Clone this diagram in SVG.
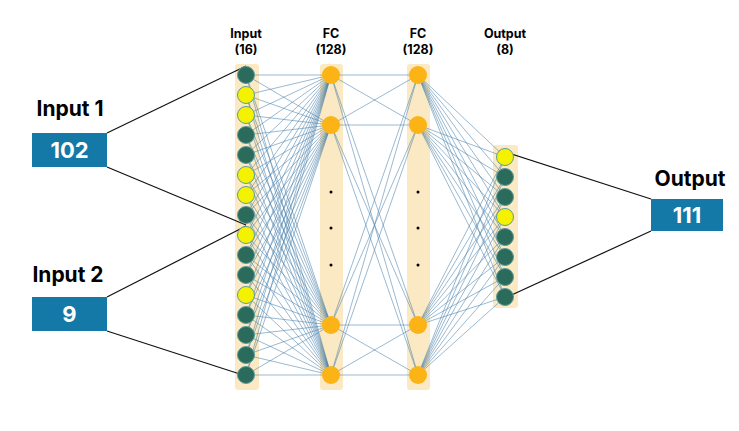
<svg xmlns="http://www.w3.org/2000/svg" width="739" height="431" viewBox="0 0 739 431">
<style>
.col{fill:#fbe9c3}
.g{fill:#2b6b5c;stroke:#5d9a9c;stroke-width:1}
.y{fill:#f5f200;stroke:#5d9a9c;stroke-width:1}
.o{fill:#fbb316}
.w{fill:none;stroke:#4a82ad;stroke-width:0.7;stroke-opacity:0.8}
.k{stroke:#111;stroke-width:1.2}
.box{fill:#1579a8}
.bt{font-family:Inter,"Liberation Sans",sans-serif;font-weight:bold;fill:#fff;font-size:22px;text-anchor:middle}
.lt{font-family:Inter,"Liberation Sans",sans-serif;font-weight:bold;fill:#000;font-size:21px;text-anchor:middle}
.ht{font-family:Inter,"Liberation Sans",sans-serif;font-weight:bold;fill:#000;font-size:12.5px;text-anchor:middle}
</style>
<rect width="739" height="431" fill="#fff"/>
<g id="columns">
<rect class="col" x="235" y="64" width="24" height="326" rx="3"/>
<rect class="col" x="320" y="64" width="23" height="326" rx="3"/>
<rect class="col" x="407" y="64" width="23" height="326" rx="3"/>
<rect class="col" x="493" y="145" width="25" height="163" rx="3"/>
</g>
<g id="connectors">
<path class="w" d="M246 75L331 75M246 95L331 75M246 115L331 75M246 135L331 75M246 155L331 75M246 175L331 75M246 195L331 75M246 215L331 75M246 235L331 75M246 255L331 75M246 275L331 75M246 295L331 75M246 315L331 75M246 335L331 75M246 355L331 75M246 375L331 75
M246 75L331 125M246 95L331 125M246 115L331 125M246 135L331 125M246 155L331 125M246 175L331 125M246 195L331 125M246 215L331 125M246 235L331 125M246 255L331 125M246 275L331 125M246 295L331 125M246 315L331 125M246 335L331 125M246 355L331 125M246 375L331 125
M246 75L331 325M246 95L331 325M246 115L331 325M246 135L331 325M246 155L331 325M246 175L331 325M246 195L331 325M246 215L331 325M246 235L331 325M246 255L331 325M246 275L331 325M246 295L331 325M246 315L331 325M246 335L331 325M246 355L331 325M246 375L331 325
M246 75L331 375M246 95L331 375M246 115L331 375M246 135L331 375M246 155L331 375M246 175L331 375M246 195L331 375M246 215L331 375M246 235L331 375M246 255L331 375M246 275L331 375M246 295L331 375M246 315L331 375M246 335L331 375M246 355L331 375M246 375L331 375"/>
<path class="w" d="M331 75L418 75M331 75L418 125M331 75L418 325M331 75L418 375M331 125L418 75M331 125L418 125M331 125L418 325M331 125L418 375M331 325L418 75M331 325L418 125M331 325L418 325M331 325L418 375M331 375L418 75M331 375L418 125M331 375L418 325M331 375L418 375"/>
<path class="w" d="M418 75L505 157M418 75L505 177M418 75L505 197M418 75L505 217M418 75L505 237M418 75L505 257M418 75L505 277M418 75L505 297
M418 125L505 157M418 125L505 177M418 125L505 197M418 125L505 217M418 125L505 237M418 125L505 257M418 125L505 277M418 125L505 297
M418 325L505 157M418 325L505 177M418 325L505 197M418 325L505 217M418 325L505 237M418 325L505 257M418 325L505 277M418 325L505 297
M418 375L505 157M418 375L505 177M418 375L505 197M418 375L505 217M418 375L505 237M418 375L505 257M418 375L505 277M418 375L505 297"/>
<line class="k" x1="107" y1="133" x2="246" y2="66"/>
<line class="k" x1="107" y1="167" x2="246" y2="225"/>
<line class="k" x1="107" y1="297" x2="246" y2="226"/>
<line class="k" x1="107" y1="331" x2="246" y2="376"/>
<line class="k" x1="651" y1="199" x2="505" y2="152"/>
<line class="k" x1="651" y1="231" x2="505" y2="298"/>
</g>
<g id="input-layer">
<text class="ht" x="246" y="38">Input</text><text class="ht" x="246" y="54">(16)</text>
<circle class="g" cx="246" cy="75" r="8.5"/><circle class="y" cx="246" cy="95" r="8.5"/><circle class="y" cx="246" cy="115" r="8.5"/><circle class="g" cx="246" cy="135" r="8.5"/>
<circle class="g" cx="246" cy="155" r="8.5"/><circle class="y" cx="246" cy="175" r="8.5"/><circle class="y" cx="246" cy="195" r="8.5"/><circle class="g" cx="246" cy="215" r="8.5"/>
<circle class="y" cx="246" cy="235" r="8.5"/><circle class="g" cx="246" cy="255" r="8.5"/><circle class="g" cx="246" cy="275" r="8.5"/><circle class="y" cx="246" cy="295" r="8.5"/>
<circle class="g" cx="246" cy="315" r="8.5"/><circle class="g" cx="246" cy="335" r="8.5"/><circle class="g" cx="246" cy="355" r="8.5"/><circle class="g" cx="246" cy="375" r="8.5"/>
</g>
<g id="fc1">
<text class="ht" x="331" y="38">FC</text><text class="ht" x="331" y="54">(128)</text>
<circle class="o" cx="331" cy="75" r="9"/><circle class="o" cx="331" cy="125" r="9"/><circle class="o" cx="331" cy="325" r="9"/><circle class="o" cx="331" cy="375" r="9"/>
<circle cx="331" cy="192" r="1.5"/><circle cx="331" cy="228" r="1.5"/><circle cx="331" cy="265" r="1.5"/>
</g>
<g id="fc2">
<text class="ht" x="418" y="38">FC</text><text class="ht" x="418" y="54">(128)</text>
<circle class="o" cx="418" cy="75" r="9"/><circle class="o" cx="418" cy="125" r="9"/><circle class="o" cx="418" cy="325" r="9"/><circle class="o" cx="418" cy="375" r="9"/>
<circle cx="418" cy="192" r="1.5"/><circle cx="418" cy="228" r="1.5"/><circle cx="418" cy="265" r="1.5"/>
</g>
<g id="output-layer">
<text class="ht" x="505" y="38">Output</text><text class="ht" x="505" y="54">(8)</text>
<circle class="y" cx="505" cy="157" r="8.5"/><circle class="g" cx="505" cy="177" r="8.5"/><circle class="g" cx="505" cy="197" r="8.5"/><circle class="y" cx="505" cy="217" r="8.5"/>
<circle class="g" cx="505" cy="237" r="8.5"/><circle class="g" cx="505" cy="257" r="8.5"/><circle class="g" cx="505" cy="277" r="8.5"/><circle class="g" cx="505" cy="297" r="8.5"/>
</g>
<g id="input1"><text class="lt" x="70" y="116">Input 1</text><rect class="box" x="32" y="133" width="75" height="34"/><text class="bt" x="69.5" y="158">102</text></g>
<g id="input2"><text class="lt" x="68" y="282">Input 2</text><rect class="box" x="32" y="297" width="75" height="34"/><text class="bt" x="69.5" y="322">9</text></g>
<g id="output"><text class="lt" x="690" y="186">Output</text><rect class="box" x="651" y="199" width="72" height="32"/><text class="bt" x="687" y="223">111</text></g>
</svg>
